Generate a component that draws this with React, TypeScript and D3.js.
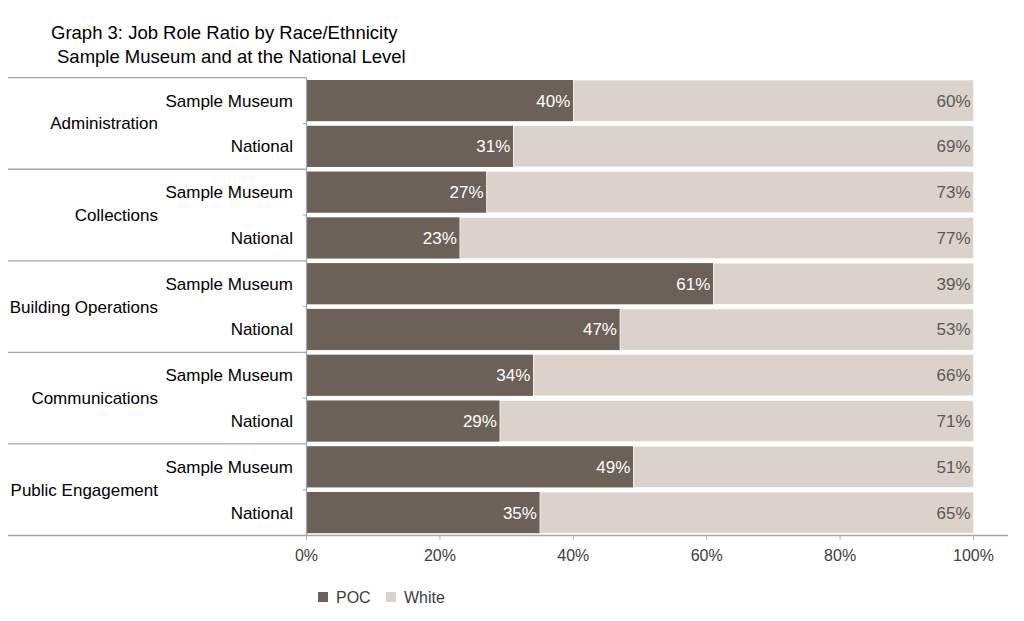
import React from "react";
import * as d3 from "d3";

const groups = [
  "Administration",
  "Collections",
  "Building Operations",
  "Communications",
  "Public Engagement",
];
const subLabels = ["Sample Museum", "National"];
// POC share per group: [Sample Museum, National]
const pocValues = [
  [40, 31],
  [27, 23],
  [61, 47],
  [34, 29],
  [49, 35],
];
const whiteValues = [
  [60, 69],
  [73, 77],
  [39, 53],
  [66, 71],
  [51, 65],
];
const seriesNames = ["POC", "White"];
const xTicks = [0, 20, 40, 60, 80, 100];

const W = 1024;
const H = 621;
const colors = ["#6b6159", "#dbd3cb"];
const font = "'Liberation Sans', Arial, sans-serif";

const App = () => {
  const rows = groups.flatMap((g, gi) =>
    subLabels.map((s, si) => ({
      key: `${g}|${s}`,
      group: g,
      sub: s,
      poc: pocValues[gi][si],
      white: whiteValues[gi][si],
    }))
  );

  const x = d3.scaleLinear().domain([0, 100]).range([306.5, 973.5]);
  const y = d3
    .scaleBand()
    .domain(rows.map((r) => r.key))
    .range([77.7, 535.5])
    .paddingInner(0.1)
    .paddingOuter(0.05);
  const step = y.step();
  const top = 77.7;

  return (
    <svg
      width={W}
      height={H}
      style={{ position: "absolute", left: 0, top: 0, fontFamily: font }}
    >
      <rect width={W} height={H} fill="#fff" />
      {/* title */}
      <text x={51} y={39} fontSize={18.5} fill="#000">
        Graph 3: Job Role Ratio by Race/Ethnicity
      </text>
      <text x={57} y={63} fontSize={18.5} fill="#000">
        Sample Museum and at the National Level
      </text>

      {/* bars */}
      {rows.map((r) => {
        const y0 = y(r.key)!;
        const bh = y.bandwidth();
        return (
          <g key={r.key}>
            <rect
              x={x(0)}
              y={y0}
              width={x(r.poc) - x(0)}
              height={bh}
              fill={colors[0]}
            />
            <rect
              x={x(r.poc)}
              y={y0}
              width={x(r.poc + r.white) - x(r.poc)}
              height={bh}
              fill={colors[1]}
              stroke="#fff"
              strokeWidth={0.6}
            />
            <text
              x={x(r.poc) - 3}
              y={y0 + bh / 2}
              dy="0.35em"
              textAnchor="end"
              fontSize={17}
              fill="#fff"
            >
              {r.poc}%
            </text>
            <text
              x={x(r.poc + r.white) - 3}
              y={y0 + bh / 2}
              dy="0.35em"
              textAnchor="end"
              fontSize={17}
              fill="#595959"
            >
              {r.white}%
            </text>
            <text
              x={293}
              y={y0 + bh / 2}
              dy="0.35em"
              textAnchor="end"
              fontSize={17}
              fill="#000"
            >
              {r.sub}
            </text>
          </g>
        );
      })}

      {/* group labels, separators, ticks */}
      {groups.map((g, gi) => {
        const mid = top + step * (gi * 2 + 1);
        return (
          <g key={g}>
            <line
              x1={8}
              x2={306.5}
              y1={top + step * gi * 2}
              y2={top + step * gi * 2}
              stroke="#a6a6a6"
              strokeWidth={1.3}
            />
            <line x1={303} x2={306.5} y1={mid} y2={mid} stroke="#a6a6a6" />
            <text
              x={158}
              y={mid}
              dy="0.35em"
              textAnchor="end"
              fontSize={17}
              fill="#000"
            >
              {g}
            </text>
          </g>
        );
      })}

      {/* vertical axis line */}
      <line
        x1={306.5}
        x2={306.5}
        y1={top}
        y2={535.5}
        stroke="#a6a6a6"
        strokeWidth={1.3}
      />
      {/* bottom axis */}
      <line
        x1={8}
        x2={1008}
        y1={535.5}
        y2={535.5}
        stroke="#a6a6a6"
        strokeWidth={1.3}
      />
      {xTicks.map((t) => (
        <g key={t}>
          <line
            x1={x(t)}
            x2={x(t)}
            y1={535.5}
            y2={539.5}
            stroke="#a6a6a6"
          />
          <text
            x={x(t)}
            y={561}
            textAnchor="middle"
            fontSize={16}
            fill="#404040"
          >
            {t}%
          </text>
        </g>
      ))}

      {/* legend */}
      {seriesNames.map((s, i) => {
        const lx = i === 0 ? 318 : 386;
        return (
          <g key={s}>
            <rect x={lx} y={592} width={10} height={10} fill={colors[i]} />
            <text x={lx + 18} y={597} dy="0.35em" fontSize={16} fill="#404040">
              {s}
            </text>
          </g>
        );
      })}
    </svg>
  );
};

export default App;
